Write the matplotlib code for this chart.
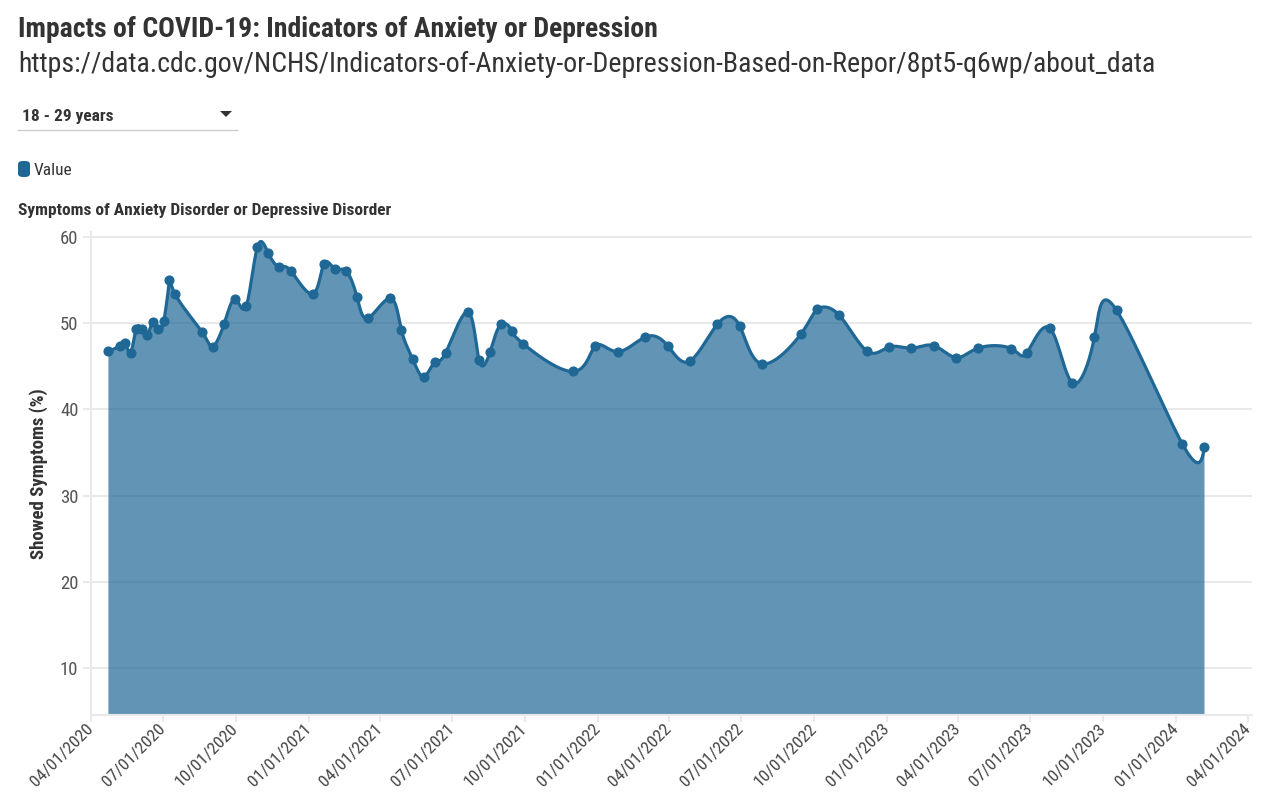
import matplotlib
matplotlib.use("Agg")
import matplotlib.pyplot as plt
import matplotlib.dates as mdates
import matplotlib.transforms as mtransforms
from matplotlib import font_manager
from matplotlib.patches import FancyBboxPatch, Polygon
from matplotlib.lines import Line2D
import numpy as np
import pandas as pd

# survey period start dates and % with symptoms (18 - 29 years)
dates = [
    "2020-04-23", "2020-05-07", "2020-05-14", "2020-05-21", "2020-05-28",
    "2020-06-04", "2020-06-11", "2020-06-18", "2020-06-25", "2020-07-02",
    "2020-07-09", "2020-07-16", "2020-08-19", "2020-09-02", "2020-09-16",
    "2020-09-30", "2020-10-14", "2020-10-28", "2020-11-11", "2020-11-25",
    "2020-12-09", "2021-01-06", "2021-01-20", "2021-02-03", "2021-02-17",
    "2021-03-03", "2021-03-17", "2021-04-14", "2021-04-28", "2021-05-12",
    "2021-05-26", "2021-06-09", "2021-06-23", "2021-07-21", "2021-08-04",
    "2021-08-18", "2021-09-01", "2021-09-15", "2021-09-29", "2021-12-01",
    "2021-12-29", "2022-01-26", "2022-03-02", "2022-03-30", "2022-04-27",
    "2022-06-01", "2022-06-29", "2022-07-27", "2022-09-14", "2022-10-05",
    "2022-11-02", "2022-12-07", "2023-01-04", "2023-02-01", "2023-03-01",
    "2023-03-29", "2023-04-26", "2023-06-07", "2023-06-27", "2023-07-26",
    "2023-08-23", "2023-09-20", "2023-10-18", "2024-01-09", "2024-02-06",
]
values = [
    46.75, 47.4, 47.7, 46.6, 49.3,
    49.3, 48.6, 50.1, 49.3, 50.3,
    55.0, 53.4, 49.0, 47.25, 49.9,
    52.8, 52.0, 58.8, 58.1, 56.5,
    56.1, 53.4, 56.9, 56.3, 56.1,
    53.0, 50.6, 52.9, 49.2, 45.9,
    43.8, 45.5, 46.6, 51.3, 45.7,
    46.7, 49.9, 49.1, 47.6, 44.4,
    47.4, 46.7, 48.4, 47.4, 45.6,
    49.9, 49.7, 45.3, 48.7, 51.6,
    50.9, 46.75, 47.25, 47.1, 47.4,
    46.0, 47.1, 47.05, 46.6, 49.4,
    43.1, 48.4, 51.5, 36.0, 35.65,
]
tick_dates = pd.date_range("2020-04-01", "2024-04-01", freq="3MS")
y_ticks = [10, 20, 30, 40, 50, 60]

title = "Impacts of COVID-19: Indicators of Anxiety or Depression"
source = "https://data.cdc.gov/NCHS/Indicators-of-Anxiety-or-Depression-Based-on-Repor/8pt5-q6wp/about_data"
group = "18 - 29 years"
series_name = "Value"
indicator = "Symptoms of Anxiety Disorder or Depressive Disorder"
y_title = "Showed Symptoms (%)"

LINE = "#1f6896"
GRID = "#e9e9e9"

names = {f.name for f in font_manager.fontManager.ttflist}
FONT = "Roboto Condensed" if "Roboto Condensed" in names else "Roboto"
plt.rcParams["font.family"] = [FONT, "DejaVu Sans"]


def natural(p, steps=24):
    # natural cubic spline over the point index (like d3.curveNatural)
    p = np.asarray(p, float)
    n = len(p) - 1
    A = np.zeros((n + 1, n + 1))
    r = np.zeros(n + 1)
    A[0, 0] = A[n, n] = 1
    for i in range(1, n):
        A[i, i - 1], A[i, i], A[i, i + 1] = 1, 4, 1
        r[i] = 6 * (p[i - 1] - 2 * p[i] + p[i + 1])
    M = np.linalg.solve(A, r)
    out = []
    for i in range(n):
        u = np.linspace(0, 1, steps, endpoint=(i == n - 1))
        s = ((1 - u) * p[i] + u * p[i + 1]
             + ((1 - u) ** 3 - (1 - u)) * M[i] / 6
             + (u ** 3 - u) * M[i + 1] / 6)
        out.append(s)
    return np.concatenate(out)


W, H = 1281, 808
fig = plt.figure(figsize=(W / 100, H / 100), dpi=100)
fig.patch.set_facecolor("white")


def fx(x):
    return x / W


def fy(y):
    return 1 - y / H


ax = fig.add_axes([fx(91), fy(715), fx(1252) - fx(91), fy(232) - fy(715)])

xd = mdates.date2num(pd.to_datetime(dates))
sx = natural(xd)
sy = natural(values)

y0, y1 = 4.55, 60.58
ax.set_ylim(y0, y1)
ax.set_xlim(mdates.date2num(pd.Timestamp("2020-04-01")),
            mdates.date2num(pd.Timestamp("2024-04-06")))

poly_x = np.concatenate([sx, [sx[-1], sx[0]]])
poly_y = np.concatenate([sy, [y0, y0]])
ax.fill(poly_x, poly_y, color=LINE, alpha=0.7, lw=0, zorder=2)
ax.plot(sx, sy, color=LINE, lw=2.3, zorder=3, solid_capstyle="round")
ax.plot(xd, values, "o", color=LINE, ms=6.3, zorder=4)

ax.set_yticks(y_ticks)
ax.set_xticks(mdates.date2num(tick_dates))
ax.set_xticklabels([d.strftime("%m/%d/%Y") for d in tick_dates],
                   rotation=45, ha="right", va="center", rotation_mode="anchor")
shift = mtransforms.ScaledTranslation(10 / 100, 0, fig.dpi_scale_trans)
for lab in ax.get_xticklabels():
    lab.set_transform(lab.get_transform() + shift)
ax.grid(axis="y", color=GRID, lw=1.5, zorder=0)
ax.set_axisbelow(True)
for s in ["top", "right"]:
    ax.spines[s].set_visible(False)
for s in ["left", "bottom"]:
    ax.spines[s].set_color(GRID)
    ax.spines[s].set_linewidth(1.5)
ax.tick_params(axis="y", length=6, width=1.5, color=GRID, labelsize=13.5,
               labelcolor="#555555", pad=3)
ax.tick_params(axis="x", length=5, width=1.5, color=GRID, labelsize=12.5,
               labelcolor="#444444", pad=3)
ax.set_ylabel(y_title, fontsize=13.5, fontweight="bold", color="#333333",
              labelpad=9)

# header
fig.text(fx(18), fy(37), title, fontsize=20, fontweight="bold",
         color="#333333", va="baseline")
fig.text(fx(18), fy(72), source, fontsize=20.1, color="#333333",
         va="baseline")
fig.text(fx(22), fy(121), group, fontsize=12.5, fontweight="bold",
         color="#333333", va="baseline")
fig.add_artist(Line2D([fx(18), fx(237)], [fy(130), fy(130)],
                      transform=fig.transFigure, color="#cccccc", lw=1))
fig.add_artist(Polygon([[fx(220), fy(111)], [fx(232), fy(111)],
                        [fx(226), fy(117)]], closed=True,
                       transform=fig.transFigure, color="#333333", lw=0))
fig.add_artist(FancyBboxPatch((fx(18), fy(177)), fx(12), fy(161) - fy(177),
                              boxstyle="round,pad=0,rounding_size=0.004",
                              transform=fig.transFigure, color=LINE, lw=0))
fig.text(fx(34), fy(175), series_name, fontsize=12.5, color="#333333",
         va="baseline")
fig.text(fx(18), fy(215), indicator, fontsize=12.5, fontweight="bold",
         color="#333333", va="baseline")

fig.savefig("out.png", dpi=100)
